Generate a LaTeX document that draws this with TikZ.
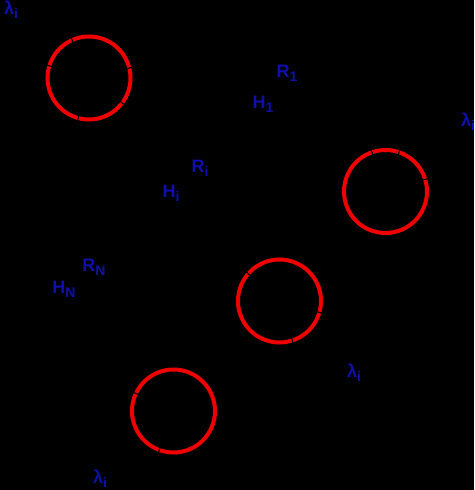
\documentclass[tikz,border=0pt]{standalone}
\usepackage{fontspec}
\setmainfont{Liberation Sans}
\definecolor{lblblue}{RGB}{15,15,175}
\definecolor{ringred}{RGB}{240,0,0}
\begin{document}
\begin{tikzpicture}[x=1pt,y=-1pt,
  lbl/.style={text=lblblue,font=\fontsize{18}{18}\selectfont\bfseries,inner sep=0pt,anchor=center},
  ring/.style={draw=ringred,line width=4pt},
  gap/.style={draw=black,line width=1.1pt}]
\fill[black] (0,0) rectangle (474,490);
\useasboundingbox (0,0) rectangle (474,490);
\newcommand{\sub}[1]{{\fontsize{14}{14}\selectfont\raisebox{-4pt}{#1}}}
% rings
\node[ring,circle,minimum size=83pt,inner sep=0pt] (c1) at (89,78) {};
\node[ring,circle,minimum size=83pt,inner sep=0pt] (c2) at (385.5,191.5) {};
\node[ring,circle,minimum size=83pt,inner sep=0pt] (c3) at (279.5,301) {};
\node[ring,circle,minimum size=83pt,inner sep=0pt] (c4) at (173.5,411) {};
% small crossings of the (black) bonds
\foreach \a in {-114,-14,37,105,-163} \draw[gap] (c1.center) ++(\a:37) -- ++(\a:9);
\foreach \a in {-109,-71,-17} \draw[gap] (c2.center) ++(\a:37) -- ++(\a:9);
\foreach \a in {-139,16,72} \draw[gap] (c3.center) ++(\a:37) -- ++(\a:9);
\foreach \a in {-155,110} \draw[gap] (c4.center) ++(\a:37) -- ++(\a:9);
% labels
\node[lbl] (l1) at (11,10) {λ\sub{i}};
\node[lbl] (r1) at (287,73) {R\sub{1}};
\node[lbl] (h1) at (263,104) {H\sub{1}};
\node[lbl] (l2) at (468,122) {λ\sub{i}};
\node[lbl] (ri) at (200,168) {R\sub{i}};
\node[lbl] (hi) at (171,193) {H\sub{i}};
\node[lbl] (rn) at (94,267) {R\sub{N}};
\node[lbl] (hn) at (64,289) {H\sub{N}};
\node[lbl] (l3) at (354,373) {λ\sub{i}};
\node[lbl] (l4) at (100,479) {λ\sub{i}};
\end{tikzpicture}
\end{document}
